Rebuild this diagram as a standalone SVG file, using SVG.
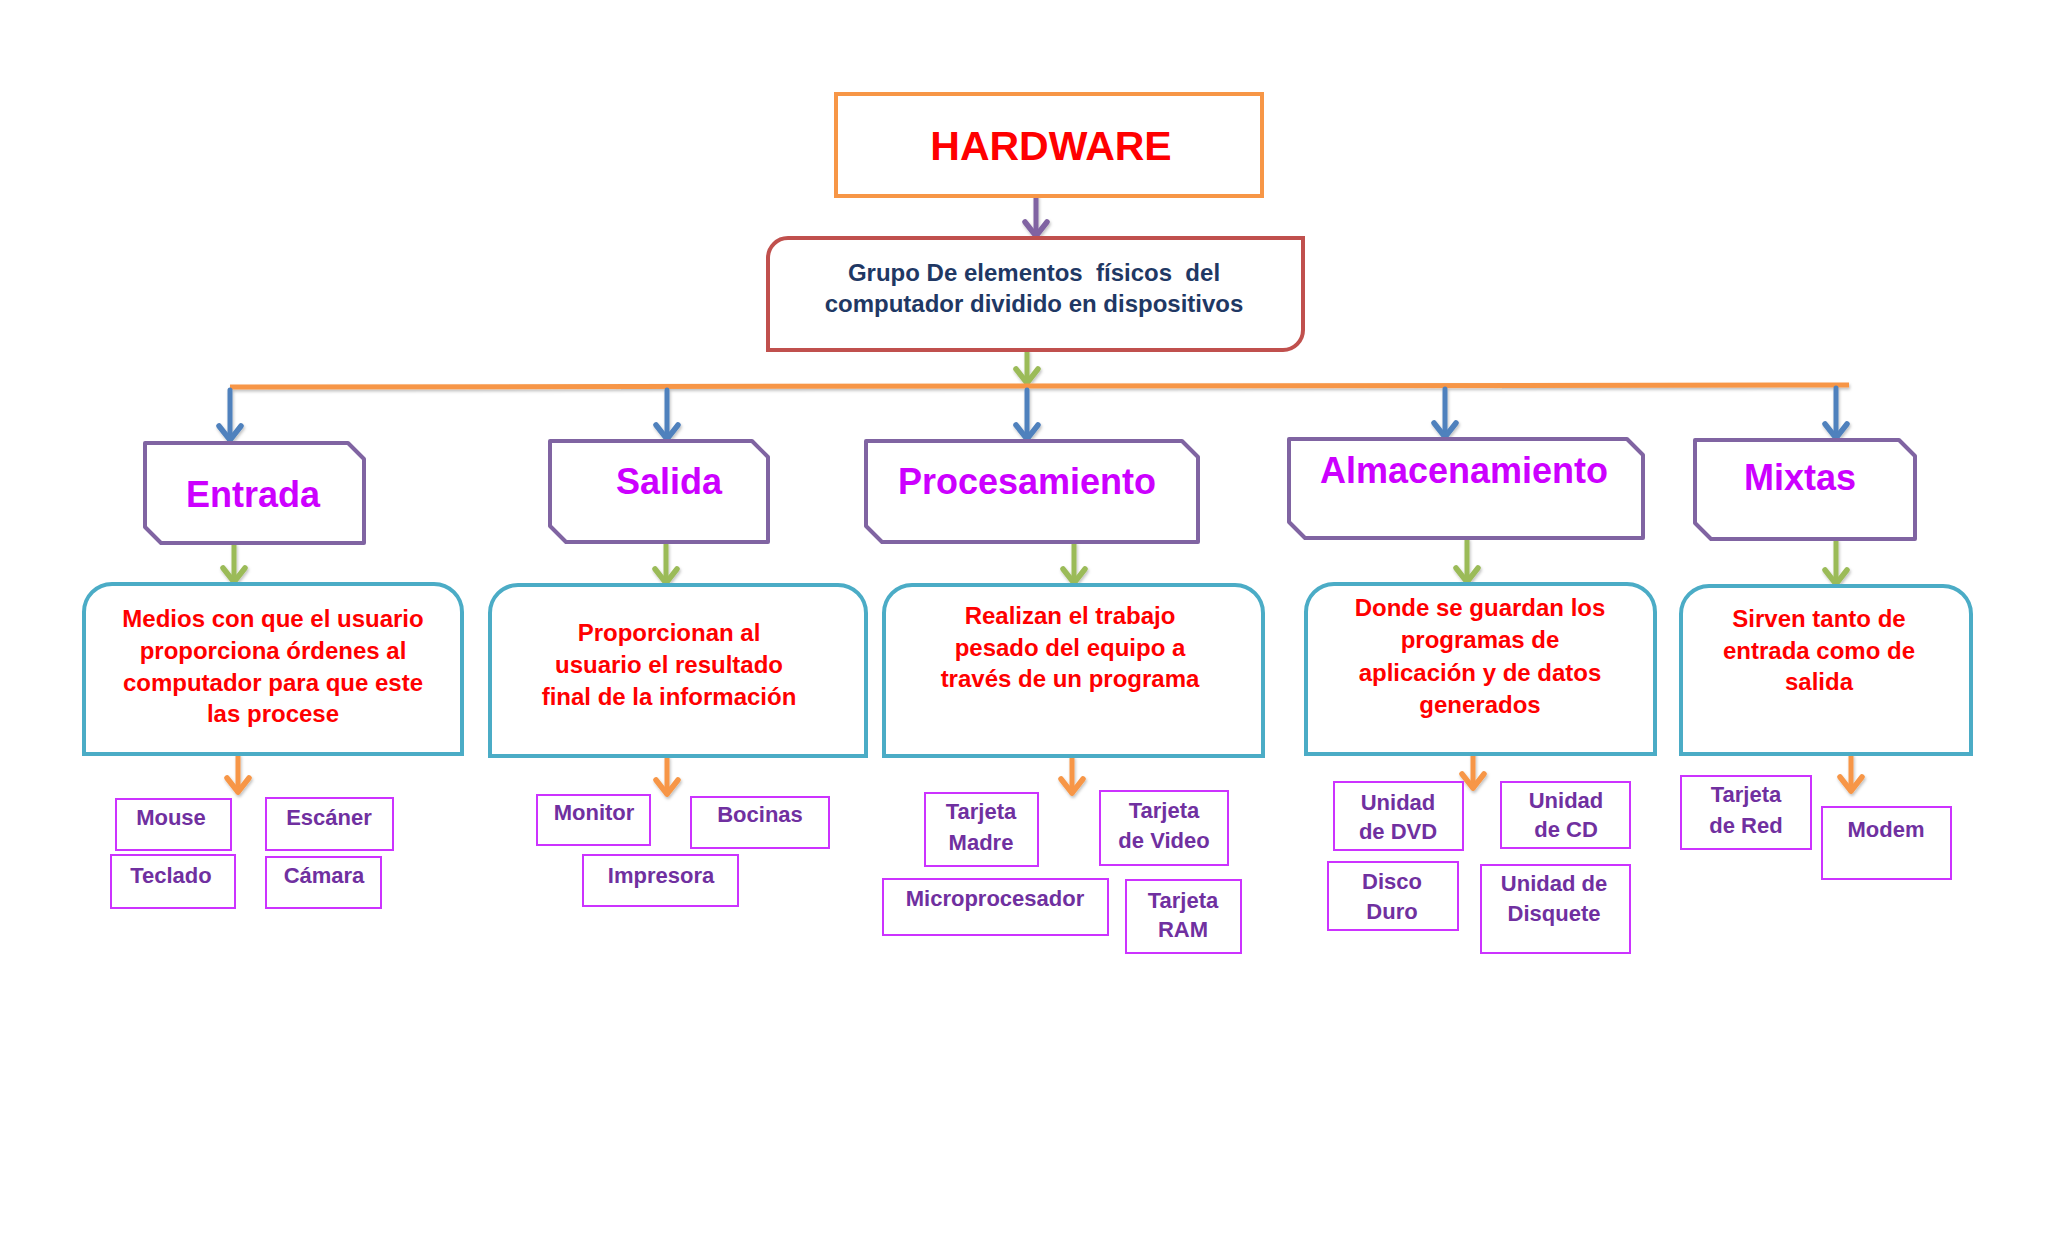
<svg xmlns="http://www.w3.org/2000/svg" width="2048" height="1243" viewBox="0 0 2048 1243">
<style>
text{font-family:"Liberation Sans",Arial,sans-serif;font-weight:bold;text-anchor:middle}
.hw{fill:#FF0000;font-size:41px}
.grp{fill:#1F3864;font-size:24px}
.cat{fill:#CC00FF;font-size:36px}
.desc{fill:#FF0000;font-size:24px}
.leaf{fill:#7030A0;font-size:22px}
.catbox{fill:#fff;stroke:#8064A2;stroke-width:4;stroke-linejoin:round}
.descbox{fill:#fff;stroke:#4BACC6;stroke-width:4}
.leafbox{fill:#fff;stroke:#CC33FF;stroke-width:2}
.ln{fill:none;stroke-width:5;stroke-linecap:round}
.blue{stroke:#4F81BD}.green{stroke:#9BBB59}.orange{stroke:#F79646}.purple{stroke:#8064A2}
</style>
<defs>
<filter id="sh" x="-50%" y="-20%" width="200%" height="150%"><feDropShadow dx="1" dy="2" stdDeviation="1.5" flood-opacity="0.25"/></filter>
<marker id="ah-blue" markerUnits="userSpaceOnUse" viewBox="-16 -14 20 28" refX="0" refY="0" markerWidth="20" markerHeight="28" orient="auto" overflow="visible"><path d="M-14 -11 L0 0 L-14 11" fill="none" stroke="#4F81BD" stroke-width="5.5" stroke-linecap="round" stroke-linejoin="round"/></marker>
<marker id="ah-green" markerUnits="userSpaceOnUse" viewBox="-16 -14 20 28" refX="0" refY="0" markerWidth="20" markerHeight="28" orient="auto" overflow="visible"><path d="M-14 -11 L0 0 L-14 11" fill="none" stroke="#9BBB59" stroke-width="5.5" stroke-linecap="round" stroke-linejoin="round"/></marker>
<marker id="ah-orange" markerUnits="userSpaceOnUse" viewBox="-16 -14 20 28" refX="0" refY="0" markerWidth="20" markerHeight="28" orient="auto" overflow="visible"><path d="M-14 -11 L0 0 L-14 11" fill="none" stroke="#F79646" stroke-width="5.5" stroke-linecap="round" stroke-linejoin="round"/></marker>
<marker id="ah-purple" markerUnits="userSpaceOnUse" viewBox="-16 -14 20 28" refX="0" refY="0" markerWidth="20" markerHeight="28" orient="auto" overflow="visible"><path d="M-14 -11 L0 0 L-14 11" fill="none" stroke="#8064A2" stroke-width="5.5" stroke-linecap="round" stroke-linejoin="round"/></marker>
</defs>
<rect width="2048" height="1243" fill="#FFFFFF"/>

<g id="connectors" filter="url(#sh)">
<line class="ln purple" x1="1036" y1="197" x2="1036" y2="236" marker-end="url(#ah-purple)"/>
<line class="ln green" x1="1027" y1="352" x2="1027" y2="383" marker-end="url(#ah-green)"/>
<line x1="230" y1="387" x2="1849" y2="385" stroke="#F79646" stroke-width="5"/>
<line class="ln blue" x1="230" y1="390" x2="230" y2="440" marker-end="url(#ah-blue)"/>
<line class="ln blue" x1="667" y1="390" x2="667" y2="439" marker-end="url(#ah-blue)"/>
<line class="ln blue" x1="1027" y1="390" x2="1027" y2="439" marker-end="url(#ah-blue)"/>
<line class="ln blue" x1="1445" y1="389" x2="1445" y2="437" marker-end="url(#ah-blue)"/>
<line class="ln blue" x1="1836" y1="388" x2="1836" y2="438" marker-end="url(#ah-blue)"/>
<line class="ln green" x1="234" y1="545" x2="234" y2="582" marker-end="url(#ah-green)"/>
<line class="ln green" x1="666" y1="544" x2="666" y2="583" marker-end="url(#ah-green)"/>
<line class="ln green" x1="1074" y1="544" x2="1074" y2="583" marker-end="url(#ah-green)"/>
<line class="ln green" x1="1467" y1="540" x2="1467" y2="582" marker-end="url(#ah-green)"/>
<line class="ln green" x1="1836" y1="541" x2="1836" y2="584" marker-end="url(#ah-green)"/>
<line class="ln orange" x1="238" y1="756" x2="238" y2="792" marker-end="url(#ah-orange)"/>
<line class="ln orange" x1="667" y1="758" x2="667" y2="794" marker-end="url(#ah-orange)"/>
<line class="ln orange" x1="1072" y1="758" x2="1072" y2="793" marker-end="url(#ah-orange)"/>
<line class="ln orange" x1="1473" y1="752" x2="1473" y2="788" marker-end="url(#ah-orange)"/>
<line class="ln orange" x1="1851" y1="756" x2="1851" y2="791" marker-end="url(#ah-orange)"/>
</g>

<g id="hardware">
<rect x="836" y="94" width="426" height="102" fill="#fff" stroke="#F79646" stroke-width="4"/>
<text class="hw" x="1051" y="160">HARDWARE</text>
</g>
<g id="grupo">
<path d="M788 238 H1303 V330 A20 20 0 0 1 1283 350 H768 V258 A20 20 0 0 1 788 238 Z" fill="#fff" stroke="#C0504D" stroke-width="4"/>
<text class="grp" x="1034" y="281" xml:space="preserve">Grupo De elementos  físicos  del</text>
<text class="grp" x="1034" y="312">computador dividido en dispositivos</text>
</g>

<g id="cat-entrada">
<path class="catbox" d="M145 443 H348 L364 459 V543 H161 L145 527 Z"/>
<text class="cat" x="253" y="507">Entrada</text>
</g>
<g id="cat-salida">
<path class="catbox" d="M550 441 H752 L768 457 V542 H566 L550 526 Z"/>
<text class="cat" x="669" y="494">Salida</text>
</g>
<g id="cat-procesamiento">
<path class="catbox" d="M866 441 H1182 L1198 457 V542 H882 L866 526 Z"/>
<text class="cat" x="1027" y="494">Procesamiento</text>
</g>
<g id="cat-almacenamiento">
<path class="catbox" d="M1289 439 H1627 L1643 455 V538 H1305 L1289 522 Z"/>
<text class="cat" x="1464" y="483">Almacenamiento</text>
</g>
<g id="cat-mixtas">
<path class="catbox" d="M1695 440 H1899 L1915 456 V539 H1711 L1695 523 Z"/>
<text class="cat" x="1800" y="490">Mixtas</text>
</g>

<g id="desc-entrada">
<path class="descbox" d="M84 754 V612 A28 28 0 0 1 112 584 H434 A28 28 0 0 1 462 612 V754 Z"/>
<text class="desc" x="273" y="627">Medios con que el usuario</text>
<text class="desc" x="273" y="659">proporciona órdenes al</text>
<text class="desc" x="273" y="691">computador para que este</text>
<text class="desc" x="273" y="722">las procese</text>
</g>
<g id="desc-salida">
<path class="descbox" d="M490 756 V613 A28 28 0 0 1 518 585 H838 A28 28 0 0 1 866 613 V756 Z"/>
<text class="desc" x="669" y="641">Proporcionan al</text>
<text class="desc" x="669" y="673">usuario el resultado</text>
<text class="desc" x="669" y="705">final de la información</text>
</g>
<g id="desc-procesamiento">
<path class="descbox" d="M884 756 V613 A28 28 0 0 1 912 585 H1235 A28 28 0 0 1 1263 613 V756 Z"/>
<text class="desc" x="1070" y="624">Realizan el trabajo</text>
<text class="desc" x="1070" y="656">pesado del equipo a</text>
<text class="desc" x="1070" y="687">través de un programa</text>
</g>
<g id="desc-almacenamiento">
<path class="descbox" d="M1306 754 V612 A28 28 0 0 1 1334 584 H1627 A28 28 0 0 1 1655 612 V754 Z"/>
<text class="desc" x="1480" y="616">Donde se guardan los</text>
<text class="desc" x="1480" y="648">programas de</text>
<text class="desc" x="1480" y="681">aplicación y de datos</text>
<text class="desc" x="1480" y="713">generados</text>
</g>
<g id="desc-mixtas">
<path class="descbox" d="M1681 754 V614 A28 28 0 0 1 1709 586 H1943 A28 28 0 0 1 1971 614 V754 Z"/>
<text class="desc" x="1819" y="627">Sirven tanto de</text>
<text class="desc" x="1819" y="659">entrada como de</text>
<text class="desc" x="1819" y="690">salida</text>
</g>

<g id="leaf-mouse"><rect class="leafbox" x="116" y="799" width="115" height="51"/><text class="leaf" x="171" y="825">Mouse</text></g>
<g id="leaf-escaner"><rect class="leafbox" x="266" y="798" width="127" height="52"/><text class="leaf" x="329" y="825">Escáner</text></g>
<g id="leaf-teclado"><rect class="leafbox" x="111" y="855" width="124" height="53"/><text class="leaf" x="171" y="883">Teclado</text></g>
<g id="leaf-camara"><rect class="leafbox" x="266" y="857" width="115" height="51"/><text class="leaf" x="324" y="883">Cámara</text></g>

<g id="leaf-monitor"><rect class="leafbox" x="537" y="795" width="113" height="50"/><text class="leaf" x="594" y="820">Monitor</text></g>
<g id="leaf-bocinas"><rect class="leafbox" x="691" y="797" width="138" height="51"/><text class="leaf" x="760" y="822">Bocinas</text></g>
<g id="leaf-impresora"><rect class="leafbox" x="583" y="855" width="155" height="51"/><text class="leaf" x="661" y="883">Impresora</text></g>

<g id="leaf-tarjeta-madre"><rect class="leafbox" x="925" y="793" width="113" height="73"/><text class="leaf" x="981" y="819">Tarjeta</text><text class="leaf" x="981" y="850">Madre</text></g>
<g id="leaf-tarjeta-video"><rect class="leafbox" x="1100" y="791" width="128" height="74"/><text class="leaf" x="1164" y="818">Tarjeta</text><text class="leaf" x="1164" y="848">de Video</text></g>
<g id="leaf-microprocesador"><rect class="leafbox" x="883" y="879" width="225" height="56"/><text class="leaf" x="995" y="906">Microprocesador</text></g>
<g id="leaf-tarjeta-ram"><rect class="leafbox" x="1126" y="880" width="115" height="73"/><text class="leaf" x="1183" y="908">Tarjeta</text><text class="leaf" x="1183" y="937">RAM</text></g>

<g id="leaf-dvd"><rect class="leafbox" x="1334" y="782" width="129" height="68"/><text class="leaf" x="1398" y="810">Unidad</text><text class="leaf" x="1398" y="839">de DVD</text></g>
<g id="leaf-cd"><rect class="leafbox" x="1501" y="782" width="129" height="66"/><text class="leaf" x="1566" y="808">Unidad</text><text class="leaf" x="1566" y="837">de CD</text></g>
<g id="leaf-disco"><rect class="leafbox" x="1328" y="862" width="130" height="68"/><text class="leaf" x="1392" y="889">Disco</text><text class="leaf" x="1392" y="919">Duro</text></g>
<g id="leaf-disquete"><rect class="leafbox" x="1481" y="865" width="149" height="88"/><text class="leaf" x="1554" y="891">Unidad de</text><text class="leaf" x="1554" y="921">Disquete</text></g>

<g id="leaf-red"><rect class="leafbox" x="1681" y="776" width="130" height="73"/><text class="leaf" x="1746" y="802">Tarjeta</text><text class="leaf" x="1746" y="833">de Red</text></g>
<g id="leaf-modem"><rect class="leafbox" x="1822" y="807" width="129" height="72"/><text class="leaf" x="1886" y="837">Modem</text></g>
</svg>
